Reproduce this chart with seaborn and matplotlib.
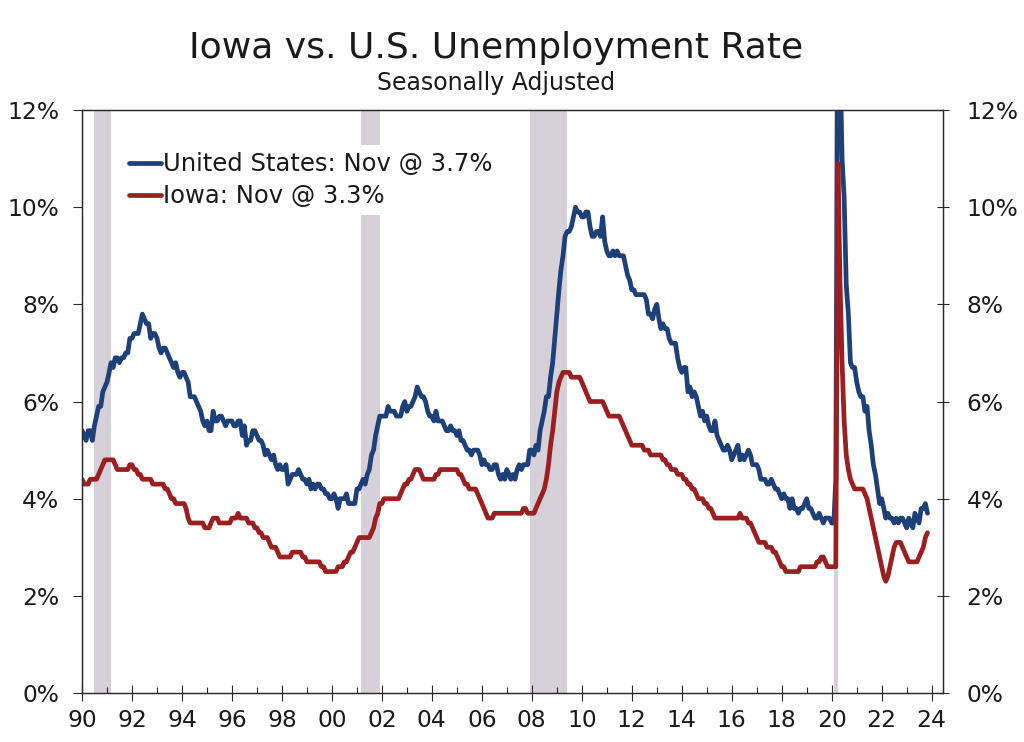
"""Iowa vs. U.S. unemployment rate, monthly, seasonally adjusted (1990 - Nov 2023)."""
import matplotlib; matplotlib.use("Agg")
import numpy as np
import pandas as pd
import matplotlib.pyplot as plt
import matplotlib.dates as mdates
import seaborn as sns

# monthly rates, Jan 1990 .. Nov 2023 (one row per year)
us_rate = [
    5.4, 5.3, 5.2, 5.4, 5.4, 5.2, 5.5, 5.7, 5.9, 5.9, 6.2, 6.3,   # 1990
    6.4, 6.6, 6.8, 6.7, 6.9, 6.9, 6.8, 6.9, 6.9, 7.0, 7.0, 7.3,   # 1991
    7.3, 7.4, 7.4, 7.4, 7.6, 7.8, 7.7, 7.6, 7.6, 7.3, 7.4, 7.4,   # 1992
    7.3, 7.1, 7.0, 7.1, 7.1, 7.0, 6.9, 6.8, 6.7, 6.8, 6.6, 6.5,   # 1993
    6.6, 6.6, 6.5, 6.4, 6.1, 6.1, 6.1, 6.0, 5.9, 5.8, 5.6, 5.5,   # 1994
    5.6, 5.4, 5.4, 5.8, 5.6, 5.6, 5.7, 5.7, 5.6, 5.5, 5.6, 5.6,   # 1995
    5.6, 5.5, 5.5, 5.6, 5.6, 5.3, 5.5, 5.1, 5.2, 5.2, 5.4, 5.4,   # 1996
    5.3, 5.2, 5.2, 5.1, 4.9, 5.0, 4.9, 4.8, 4.9, 4.7, 4.6, 4.7,   # 1997
    4.6, 4.6, 4.7, 4.3, 4.4, 4.5, 4.5, 4.5, 4.6, 4.5, 4.4, 4.4,   # 1998
    4.3, 4.4, 4.2, 4.3, 4.2, 4.3, 4.3, 4.2, 4.2, 4.1, 4.1, 4.0,   # 1999
    4.0, 4.1, 4.0, 3.8, 4.0, 4.0, 4.0, 4.1, 3.9, 3.9, 3.9, 3.9,   # 2000
    4.2, 4.2, 4.3, 4.4, 4.3, 4.5, 4.6, 4.9, 5.0, 5.3, 5.5, 5.7,   # 2001
    5.7, 5.7, 5.7, 5.9, 5.8, 5.8, 5.8, 5.7, 5.7, 5.7, 5.9, 6.0,   # 2002
    5.8, 5.9, 5.9, 6.0, 6.1, 6.3, 6.2, 6.1, 6.1, 6.0, 5.8, 5.7,   # 2003
    5.7, 5.6, 5.8, 5.6, 5.6, 5.6, 5.5, 5.4, 5.4, 5.5, 5.4, 5.4,   # 2004
    5.3, 5.4, 5.2, 5.2, 5.1, 5.0, 5.0, 4.9, 5.0, 5.0, 5.0, 4.9,   # 2005
    4.7, 4.8, 4.7, 4.7, 4.6, 4.6, 4.7, 4.7, 4.5, 4.4, 4.5, 4.4,   # 2006
    4.6, 4.5, 4.4, 4.5, 4.4, 4.6, 4.7, 4.6, 4.7, 4.7, 4.7, 5.0,   # 2007
    5.0, 4.9, 5.1, 5.0, 5.4, 5.6, 5.8, 6.1, 6.1, 6.5, 6.8, 7.3,   # 2008
    7.8, 8.3, 8.7, 9.0, 9.4, 9.5, 9.5, 9.6, 9.8, 10.0, 9.9, 9.9,  # 2009
    9.8, 9.8, 9.9, 9.9, 9.6, 9.4, 9.4, 9.5, 9.5, 9.4, 9.8, 9.3,   # 2010
    9.1, 9.0, 9.0, 9.1, 9.0, 9.1, 9.0, 9.0, 9.0, 8.8, 8.6, 8.5,   # 2011
    8.3, 8.3, 8.2, 8.2, 8.2, 8.2, 8.2, 8.1, 7.8, 7.8, 7.7, 7.9,   # 2012
    8.0, 7.7, 7.5, 7.6, 7.5, 7.5, 7.3, 7.2, 7.2, 7.2, 6.9, 6.7,   # 2013
    6.6, 6.7, 6.7, 6.2, 6.3, 6.1, 6.2, 6.1, 5.9, 5.7, 5.8, 5.6,   # 2014
    5.7, 5.5, 5.4, 5.4, 5.6, 5.3, 5.2, 5.1, 5.0, 5.0, 5.1, 5.0,   # 2015
    4.8, 4.9, 5.0, 5.1, 4.8, 4.9, 4.8, 4.9, 5.0, 4.9, 4.7, 4.7,   # 2016
    4.7, 4.6, 4.4, 4.4, 4.4, 4.3, 4.3, 4.4, 4.3, 4.2, 4.2, 4.1,   # 2017
    4.0, 4.1, 4.0, 4.0, 3.8, 4.0, 3.8, 3.8, 3.7, 3.8, 3.8, 3.9,   # 2018
    4.0, 3.8, 3.8, 3.7, 3.6, 3.6, 3.7, 3.6, 3.5, 3.6, 3.6, 3.6,   # 2019
    3.5, 3.5, 4.4, 14.8, 13.2, 11.0, 10.2, 8.4, 7.8, 6.8, 6.7, 6.7,  # 2020
    6.4, 6.2, 6.1, 6.1, 5.8, 5.9, 5.4, 5.1, 4.7, 4.5, 4.2, 3.9,   # 2021
    4.0, 3.8, 3.6, 3.7, 3.6, 3.6, 3.5, 3.6, 3.5, 3.6, 3.6, 3.5,   # 2022
    3.4, 3.6, 3.5, 3.4, 3.7, 3.6, 3.5, 3.8, 3.8, 3.9, 3.7,        # 2023
]
iowa_rate = [
    4.4, 4.3, 4.3, 4.3, 4.4, 4.4, 4.4, 4.4, 4.5, 4.6, 4.7, 4.8,   # 1990
    4.8, 4.8, 4.8, 4.8, 4.7, 4.6, 4.6, 4.6, 4.6, 4.6, 4.6, 4.7,   # 1991
    4.7, 4.6, 4.6, 4.5, 4.5, 4.4, 4.4, 4.4, 4.4, 4.4, 4.3, 4.3,   # 1992
    4.3, 4.3, 4.3, 4.3, 4.2, 4.2, 4.1, 4.0, 4.0, 3.9, 3.9, 3.9,   # 1993
    3.9, 3.9, 3.8, 3.6, 3.5, 3.5, 3.5, 3.5, 3.5, 3.5, 3.5, 3.4,   # 1994
    3.4, 3.4, 3.5, 3.6, 3.6, 3.6, 3.5, 3.5, 3.5, 3.5, 3.5, 3.5,   # 1995
    3.6, 3.6, 3.6, 3.7, 3.6, 3.6, 3.6, 3.6, 3.5, 3.5, 3.5, 3.4,   # 1996
    3.4, 3.3, 3.3, 3.2, 3.2, 3.2, 3.1, 3.0, 3.0, 3.0, 2.9, 2.8,   # 1997
    2.8, 2.8, 2.8, 2.8, 2.8, 2.9, 2.9, 2.9, 2.9, 2.9, 2.8, 2.8,   # 1998
    2.7, 2.7, 2.7, 2.7, 2.7, 2.7, 2.7, 2.6, 2.6, 2.5, 2.5, 2.5,   # 1999
    2.5, 2.5, 2.5, 2.6, 2.6, 2.6, 2.7, 2.7, 2.8, 2.9, 2.9, 3.0,   # 2000
    3.1, 3.2, 3.2, 3.2, 3.2, 3.2, 3.2, 3.3, 3.4, 3.6, 3.7, 3.9,   # 2001
    3.9, 4.0, 4.0, 4.0, 4.0, 4.0, 4.0, 4.0, 4.0, 4.1, 4.2, 4.3,   # 2002
    4.3, 4.4, 4.4, 4.5, 4.6, 4.6, 4.6, 4.5, 4.4, 4.4, 4.4, 4.4,   # 2003
    4.4, 4.4, 4.5, 4.5, 4.6, 4.6, 4.6, 4.6, 4.6, 4.6, 4.6, 4.6,   # 2004
    4.6, 4.5, 4.5, 4.4, 4.3, 4.3, 4.2, 4.2, 4.2, 4.2, 4.1, 4.0,   # 2005
    3.9, 3.8, 3.7, 3.6, 3.6, 3.6, 3.7, 3.7, 3.7, 3.7, 3.7, 3.7,   # 2006
    3.7, 3.7, 3.7, 3.7, 3.7, 3.7, 3.7, 3.7, 3.8, 3.8, 3.7, 3.7,   # 2007
    3.7, 3.7, 3.8, 3.9, 4.0, 4.1, 4.2, 4.4, 4.7, 5.1, 5.4, 5.8,   # 2008
    6.2, 6.4, 6.5, 6.6, 6.6, 6.6, 6.6, 6.5, 6.5, 6.5, 6.5, 6.5,   # 2009
    6.4, 6.3, 6.2, 6.1, 6.0, 6.0, 6.0, 6.0, 6.0, 6.0, 6.0, 5.9,   # 2010
    5.8, 5.7, 5.7, 5.7, 5.7, 5.7, 5.7, 5.6, 5.5, 5.4, 5.3, 5.2,   # 2011
    5.1, 5.1, 5.1, 5.1, 5.1, 5.1, 5.0, 5.0, 5.0, 4.9, 4.9, 4.9,   # 2012
    4.9, 4.9, 4.9, 4.8, 4.8, 4.7, 4.7, 4.6, 4.6, 4.6, 4.5, 4.5,   # 2013
    4.5, 4.4, 4.4, 4.3, 4.3, 4.2, 4.2, 4.1, 4.0, 4.0, 4.0, 3.9,   # 2014
    3.9, 3.8, 3.8, 3.7, 3.6, 3.6, 3.6, 3.6, 3.6, 3.6, 3.6, 3.6,   # 2015
    3.6, 3.6, 3.6, 3.6, 3.7, 3.6, 3.6, 3.6, 3.5, 3.5, 3.4, 3.3,   # 2016
    3.2, 3.1, 3.1, 3.1, 3.1, 3.0, 3.0, 3.0, 2.9, 2.9, 2.8, 2.7,   # 2017
    2.6, 2.6, 2.5, 2.5, 2.5, 2.5, 2.5, 2.5, 2.5, 2.6, 2.6, 2.6,   # 2018
    2.6, 2.6, 2.6, 2.6, 2.6, 2.7, 2.7, 2.8, 2.8, 2.7, 2.6, 2.6,   # 2019
    2.6, 2.6, 2.6, 10.9, 8.5, 6.8, 5.6, 4.9, 4.6, 4.4, 4.3, 4.2,  # 2020
    4.2, 4.2, 4.2, 4.2, 4.1, 4.0, 3.8, 3.6, 3.4, 3.2, 3.0, 2.8,   # 2021
    2.6, 2.4, 2.3, 2.4, 2.6, 2.8, 3.0, 3.1, 3.1, 3.1, 3.0, 2.9,   # 2022
    2.8, 2.7, 2.7, 2.7, 2.7, 2.7, 2.8, 2.9, 3.0, 3.2, 3.3,        # 2023
]
series_names = ["United States", "Iowa"]
series_colors = ["#1e4079", "#9b1f20"]
recession_start = ["1990-07-01", "2001-03-01", "2007-12-01", "2020-02-01"]
recession_end = ["1991-03-01", "2001-12-01", "2009-06-01", "2020-04-01"]
y_ticks = [0, 2, 4, 6, 8, 10, 12]

dates = pd.date_range("1990-01-01", periods=len(us_rate), freq="MS")
wide = pd.DataFrame({"date": dates, "United States": us_rate, "Iowa": iowa_rate})
long = wide.melt(id_vars="date", var_name="series", value_name="rate")

sns.set_style("ticks")
plt.rcParams["font.family"] = ["DejaVu Sans"]
INK = "#1a1a1a"
AX = "#2a2a2a"

fig = plt.figure(figsize=(10.24, 7.42), dpi=100)
ax = fig.add_axes([0.0801, 0.0660, 0.8408, 0.7857])

for s, e in zip(recession_start, recession_end):
    ax.axvspan(pd.Timestamp(s), pd.Timestamp(e), color="#d6d1d9", lw=0, zorder=0)

sns.lineplot(data=long, x="date", y="rate", hue="series", hue_order=series_names,
             palette=dict(zip(series_names, series_colors)), linewidth=3.4,
             legend=False, ax=ax, zorder=3)

ax.set_xlim(pd.Timestamp("1990-01-01"), pd.Timestamp("2024-06-15"))
ax.set_ylim(0, 12)
ax.set_yticks(y_ticks)
ax.set_yticklabels([f"{v}%" for v in y_ticks])
ax.xaxis.set_major_locator(mdates.YearLocator(2))
ax.xaxis.set_minor_locator(mdates.YearLocator(1))
ax.xaxis.set_major_formatter(mdates.DateFormatter("%y"))
ax.set_xlabel(""); ax.set_ylabel("")

for sp in ax.spines.values():
    sp.set_color(AX); sp.set_linewidth(0.9)
ax.tick_params(axis="x", which="major", direction="inout", length=11, width=0.8,
               color=AX, labelsize=16.8, labelcolor=INK, pad=6)
ax.tick_params(axis="x", which="minor", direction="in", length=4.5, width=0.8, color=AX)
ax.tick_params(axis="y", direction="out", length=6.5, width=0.8, color=AX,
               labelsize=16.8, labelcolor=INK, pad=10)

ax2 = ax.twinx()
ax2.set_ylim(0, 12)
ax2.set_yticks(y_ticks)
ax2.set_yticklabels([f"{v}%" for v in y_ticks])
ax2.tick_params(axis="y", direction="inout", length=8, width=0.8, color=AX,
                labelsize=16.8, labelcolor=INK, pad=13)
for sp in ax2.spines.values():
    sp.set_color(AX); sp.set_linewidth(0.9)

lines = ax.get_lines()[:2]
labels = [f"{series_names[0]}: Nov @ {us_rate[-1]:.1f}%",
          f"{series_names[1]}: Nov @ {iowa_rate[-1]:.1f}%"]
leg = ax.legend(lines, labels, loc="upper left", bbox_to_anchor=(0.046, 0.94),
                frameon=True, facecolor="white", edgecolor="none", framealpha=1,
                fancybox=False, fontsize=17.5, handlelength=1.3, handletextpad=0.1,
                labelspacing=0.32, borderpad=0.3, borderaxespad=0)
for t in leg.get_texts():
    t.set_color(INK)
leg.set_zorder(10)

fig.text(0.484, 0.935, "Iowa vs. U.S. Unemployment Rate", ha="center", va="center",
         fontsize=26, color=INK)
fig.text(0.484, 0.888, "Seasonally Adjusted", ha="center", va="center",
         fontsize=17, color=INK)

fig.savefig("out.png", dpi=100)
